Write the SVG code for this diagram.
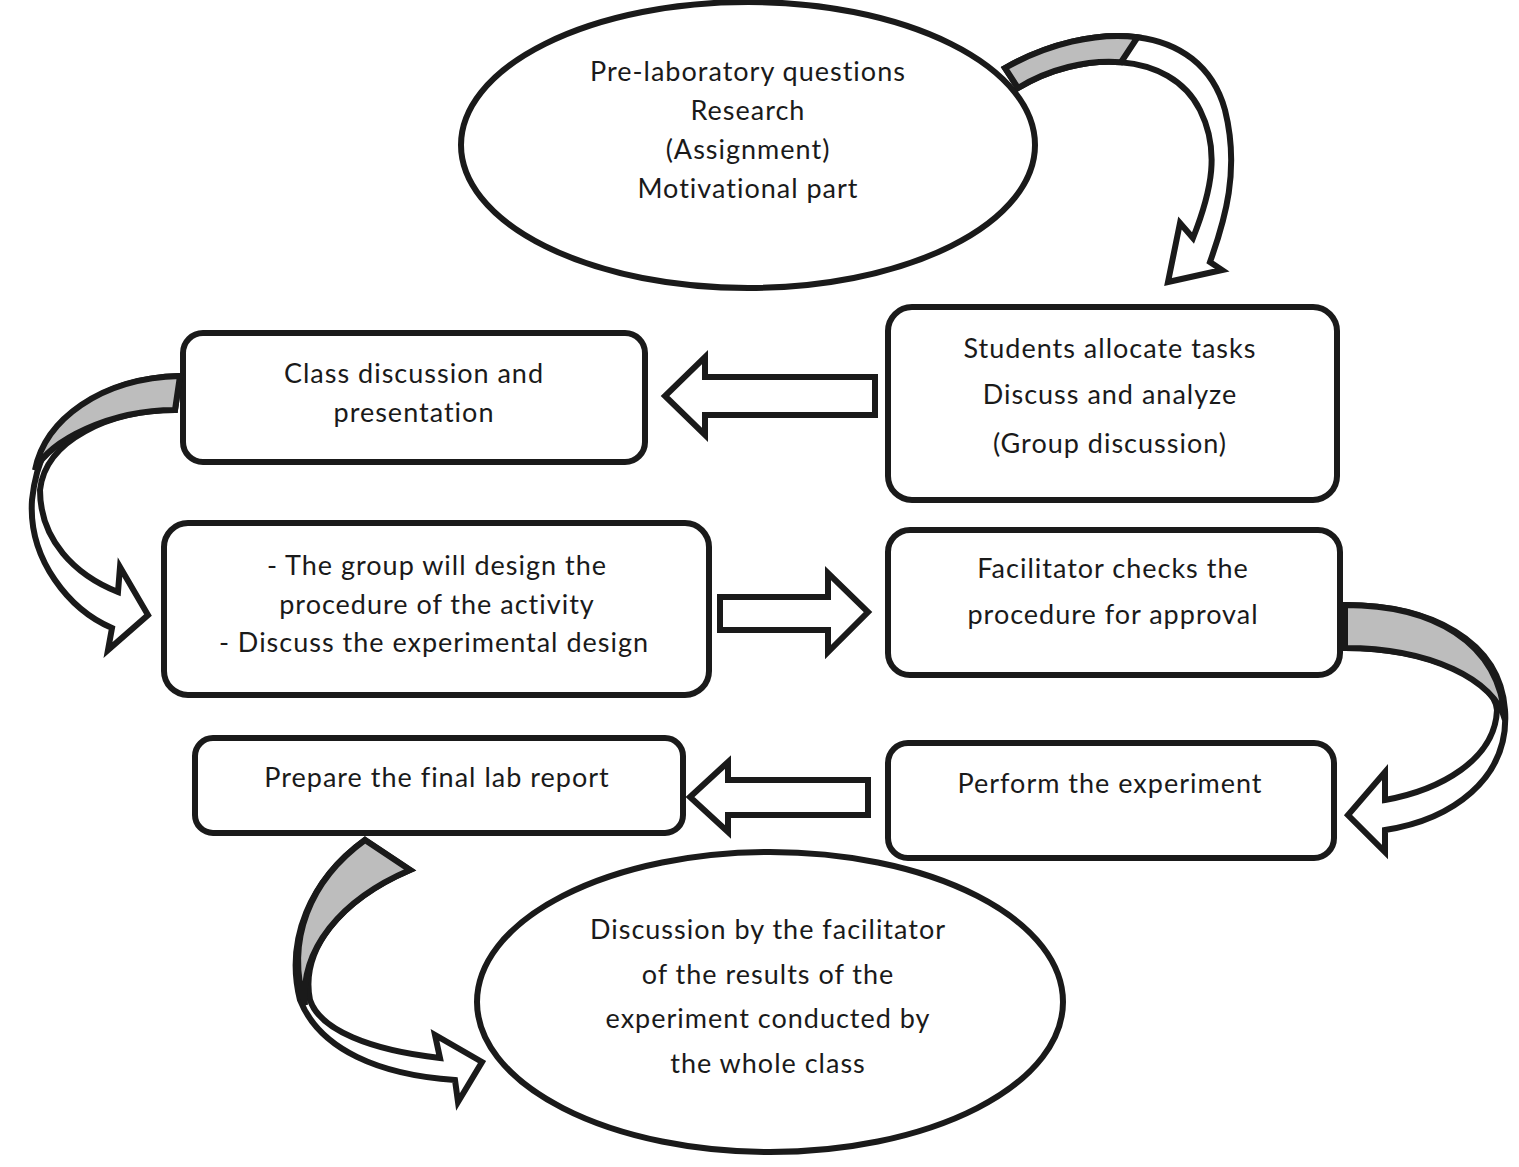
<svg xmlns="http://www.w3.org/2000/svg" width="1519" height="1167" viewBox="0 0 1519 1167">
<style>
.n{fill:#fff;stroke:#1a1a1a;stroke-width:6}
.a{fill:#fff;stroke:#1a1a1a;stroke-width:6;stroke-linejoin:miter}
.g{fill:#bdbdbd;stroke:#1a1a1a;stroke-width:6}
text{font-family:Lato,"Open Sans",sans-serif;font-size:27px;letter-spacing:1px;fill:#1a1a1a;text-anchor:middle;dominant-baseline:middle}
</style>
<rect width="1519" height="1167" fill="#fff"/>
<g id="n1"><ellipse class="n" cx="748" cy="145" rx="287" ry="143"/>
<text x="748" y="74">Pre-laboratory questions</text><text x="748" y="113">Research</text><text x="748" y="152">(Assignment)</text><text x="748" y="191">Motivational part</text></g>
<g id="n2"><rect class="n" x="888" y="307" width="449" height="193" rx="24"/>
<text x="1110" y="351">Students allocate tasks</text><text x="1110" y="397">Discuss and analyze</text><text x="1110" y="446">(Group discussion)</text></g>
<g id="n3"><rect class="n" x="183" y="333" width="462" height="129" rx="20"/>
<text x="414" y="376">Class discussion and</text><text x="414" y="415">presentation</text></g>
<g id="n4"><rect class="n" x="164" y="523" width="545" height="172" rx="24"/>
<text x="437" y="568">- The group will design the</text><text x="437" y="607">procedure of the activity</text><text x="434" y="645">- Discuss the experimental design</text></g>
<g id="n5"><rect class="n" x="888" y="530" width="452" height="145" rx="22"/>
<text x="1113" y="571">Facilitator checks the</text><text x="1113" y="617">procedure for approval</text></g>
<g id="n6"><rect class="n" x="888" y="743" width="446" height="115" rx="20"/>
<text x="1110" y="786">Perform the experiment</text></g>
<g id="n7"><rect class="n" x="195" y="738" width="488" height="95" rx="18"/>
<text x="437" y="780">Prepare the final lab report</text></g>
<g id="n8"><ellipse class="n" cx="770" cy="1002" rx="293" ry="150"/>
<text x="768" y="932">Discussion by the facilitator</text><text x="768" y="977">of the results of the</text><text x="768" y="1021">experiment conducted by</text><text x="768" y="1066">the whole class</text></g>
<g id="connectors">
<path class="a" d="M1005,68 C1090,20 1200,20 1225,110 C1240,170 1225,220 1210,262 L1222,270 L1168,282 L1180,223 L1193,238 C1212,190 1220,150 1200,110 C1170,50 1080,50 1018,88 Z"/>
<path class="g" d="M1005,68 C1047.5,44 1096.25,32 1137.5,37.25 L1121,62.25 C1087,59.5 1049,69 1018,88 Z"/>
<path class="a" d="M180,376 C100,378 40,420 32,500 C28,560 70,610 112,628 L108,650 L148,615 L120,567 L118,592 C75,575 40,540 40,490 C45,440 110,410 175,410 Z"/>
<path class="g" d="M180,376 C100,378 45,420 35,470 C50,440 110,410 175,410 Z"/>
<path class="a" d="M1345,605 C1430,605 1500,640 1505,710 C1510,780 1450,820 1385,830 L1385,852 L1348,815 L1385,772 L1385,800 C1440,790 1495,760 1497,710 C1495,680 1430,648 1345,648 Z"/>
<path class="g" d="M1345,605 C1430,605 1500,640 1505,720 C1495,680 1430,648 1345,648 Z"/>
<path class="a" d="M365,840 L410,870 C340,900 300,950 310,1000 C320,1030 370,1050 440,1058 L435,1035 L482,1062 L458,1102 L455,1080 C380,1075 320,1050 300,1000 C285,940 310,880 365,840 Z"/>
<path class="g" d="M365,840 L410,870 C340,900 300,950 305,1005 C285,940 310,880 365,840 Z"/>
<path class="a" d="M875,377 L705,377 L705,357 L665,396 L705,435 L705,415 L875,415 Z"/>
<path class="a" d="M720,597 L828,597 L828,573 L868,612 L828,652 L828,630 L720,630 Z"/>
<path class="a" d="M868,780 L728,780 L728,762 L690,797 L728,832 L728,815 L868,815 Z"/>
</g>
</svg>
